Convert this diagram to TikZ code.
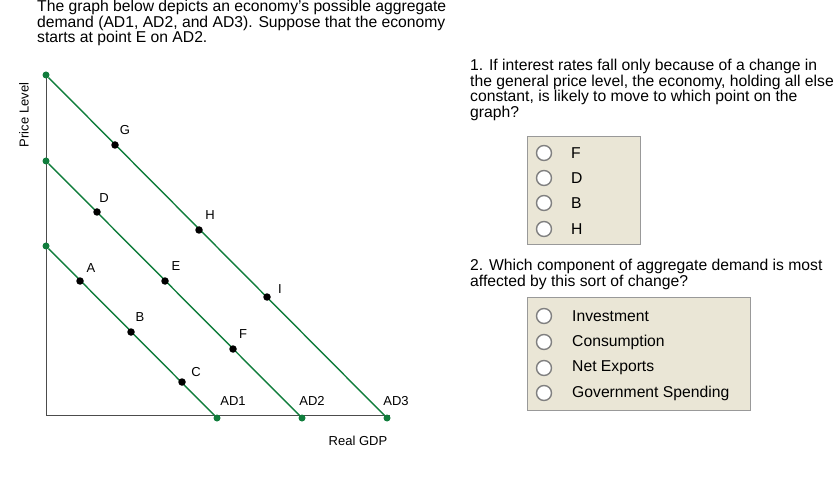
\documentclass[tikz,border=0pt]{standalone}
\usepackage{fontspec}
\setmainfont{Liberation Sans}
\definecolor{adg}{RGB}{16,125,60}
\begin{document}
\begin{tikzpicture}[x=1pt,y=-1pt,
 ad/.style={draw=adg,line width=1.4pt},
 ep/.style={circle,fill=adg,inner sep=0,minimum size=7pt},
 pt/.style={circle,fill=black,inner sep=0,minimum size=7.5pt},
 lb/.style={font=\fontsize{13}{14}\selectfont,inner sep=0},
 tx/.style={font=\fontsize{15.7}{15.5}\selectfont,anchor=west,inner sep=0,align=left},
 box/.style={draw=gray!80,fill={rgb,255:red,234;green,230;blue,214},line width=1pt},
 radio/.style={circle,draw=gray,line width=1.4pt,fill=white,inner sep=0,minimum size=15pt}]
\useasboundingbox (0,0) rectangle (840,478);
\node[tx,anchor=north west] (t) at (37,0) {The graph below depicts an economy's possible aggregate\\demand (AD1, AD2, and AD3). Suppose that the economy\\starts at point E on AD2.};
\coordinate (o) at (46,415);
\coordinate (top) at (46,75);
\coordinate (xe) at (390,415);
\draw[black!70] (top) -- (o) -- (xe);
\node[ep] (a3) at (46,75) {}; \node[ep] (b3) at (387,418) {};
\node[ep] (a2) at (46,161) {}; \node[ep] (b2) at (302,418) {};
\node[ep] (a1) at (46,246) {}; \node[ep] (b1) at (217,418) {};
\draw[ad] (a3) -- (b3); \draw[ad] (a2) -- (b2); \draw[ad] (a1) -- (b1);
\node[pt] (G) at (115,145) {}; \node[pt] (H) at (199,230) {}; \node[pt] (I) at (267,297) {};
\node[pt] (D) at (97,212) {}; \node[pt] (E) at (165,281) {}; \node[pt] (F) at (233,349) {};
\node[pt] (A) at (80,281) {}; \node[pt] (B) at (131,332) {}; \node[pt] (C) at (182,382) {};
\node[lb] at (125,130) {G}; \node[lb] at (210,215) {H}; \node[lb] at (280,289) {I};
\node[lb] at (104,198) {D}; \node[lb] at (176,266) {E}; \node[lb] at (243,334) {F};
\node[lb] at (91,268) {A}; \node[lb] at (140,317) {B}; \node[lb] at (196,372) {C};
\node[lb] at (233,401) {AD1}; \node[lb] at (312,401) {AD2}; \node[lb] at (396,401) {AD3};
\node[lb] at (358,441) {Real GDP};
\node[lb,rotate=90] at (24,115) {Price Level};
\node[tx,anchor=north west] (q1) at (470,59) {1. If interest rates fall only because of a change in\\the general price level, the economy, holding all else\\constant, is likely to move to which point on the\\graph?};
\draw[box] (527,137) rectangle (640,245);
\foreach \y/\t in {153/F,178/D,203/B,229/H}{\node[radio] at (544,\y) {}; \node[tx] at (571,\y) {\t};}
\node[tx,anchor=north west] (q2) at (470,259) {2. Which component of aggregate demand is most\\affected by this sort of change?};
\draw[box] (527,297) rectangle (750,410);
\foreach \y/\t in {316/Investment,342/Consumption,368/Net Exports,393/Government Spending}{\node[radio] at (544,\y) {}; \node[tx] at (572,\y) {\t};}
\end{tikzpicture}
\end{document}
